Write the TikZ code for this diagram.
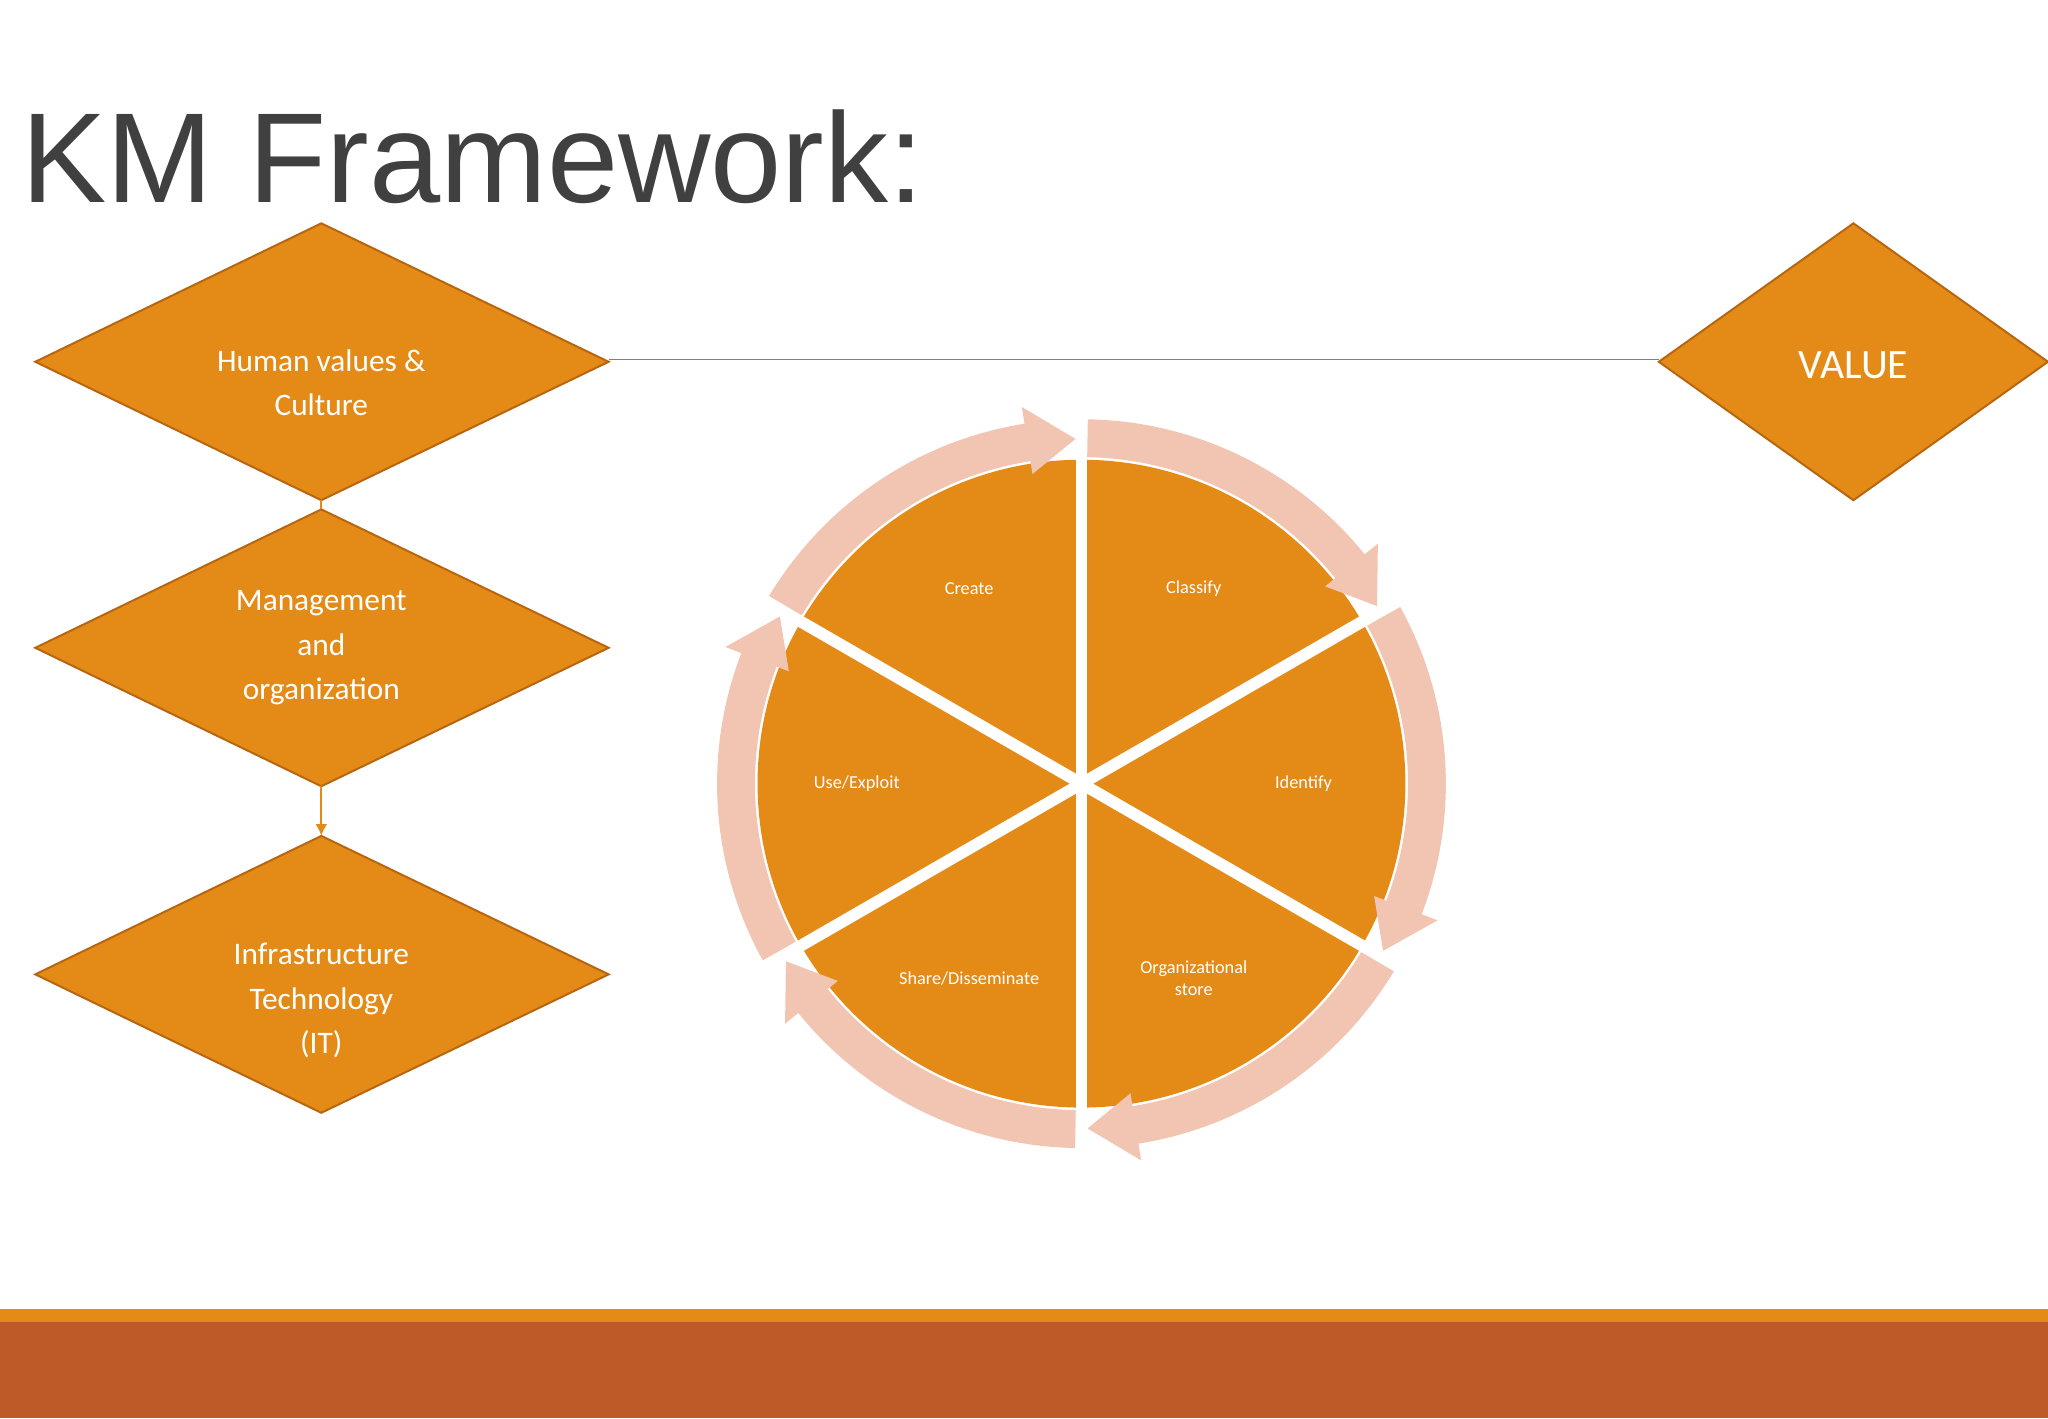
\documentclass[tikz,border=0pt]{standalone}
\usepackage{fontspec}
\usetikzlibrary{arrows.meta}
\setmainfont{Carlito}
\newfontfamily\titlefont{Liberation Sans}
\definecolor{dorange}{HTML}{E48A17}
\definecolor{dedge}{HTML}{B8650F}
\definecolor{ring}{HTML}{F2C4B2}
\definecolor{rust}{HTML}{BE5A28}
\definecolor{ttl}{HTML}{404040}
\begin{document}
\begin{tikzpicture}[x=1pt,y=1pt,
  dia/.style={fill=dorange,draw=dedge,line width=1.5pt},
  dtext/.style={text=white,align=center,font=\fontsize{24}{34}\selectfont},
  ctext/.style={text=white,align=center,font=\fontsize{14}{17}\selectfont}]
\useasboundingbox (0,0) rectangle (1568,1086);
\fill[white] (0,0) rectangle (1568,1086);
% bottom bands
\fill[rust] (0,0) rectangle (1568,74);
\fill[dorange] (0,74) rectangle (1568,84);
% title
\node[anchor=base west,inner sep=0,text=ttl,font=\titlefont\fontsize{98}{110}\selectfont] (title) at (16,931) {KM Framework:};
% diamonds
\draw[dia] (27,809) -- (246,915) -- (466,809) -- (246,703) -- cycle;
\node[dtext] (d1) at (246,793) {Human values \&\\Culture};
\draw[dia] (27,590) -- (246,696) -- (466,590) -- (246,484) -- cycle;
\node[dtext] (d2) at (246,590) {Management\\and\\organization};
\draw[dia] (27,340) -- (246,446) -- (466,340) -- (246,234) -- cycle;
\node[dtext] (d3) at (246,320) {Infrastructure\\Technology\\(IT)};
\draw[dia] (1270,809) -- (1419,915) -- (1568,809) -- (1419,703) -- cycle;
\node[text=white,font=\fontsize{32}{36}\selectfont] (v) at (1419,806) {VALUE};
\coordinate (a1) at (246,703); \coordinate (b1) at (246,696);
\draw[dorange,line width=1.5pt] (a1) -- (b1);
\coordinate (a2) at (246,484); \coordinate (b2) at (246,446);
\draw[dorange,line width=1.5pt,-{Latex[length=9pt,width=9pt]}] (a2) -- (b2);
\coordinate (l1) at (466,811); \coordinate (l2) at (1270,811);
\draw[gray,line width=0.8pt] (l1) -- (l2);
% cycle
\begin{scope}[shift={(828,486)}]
\fill[dorange] (0,0) circle (248);
\foreach \b in {90,30,-30,-90,-150,150}{
  \pgfmathsetmacro{\s}{\b+59}
  \pgfmathsetmacro{\e}{\b+9}
  \pgfmathsetmacro{\t}{\b+1}
  \fill[ring] (\s:250) arc[start angle=\s,end angle=\e,radius=250] -- (\e:240) -- (\t:264) -- (\e:292) -- (\e:279) arc[start angle=\e,end angle=\s,radius=279] -- cycle;
}
\foreach \b in {90,30,-30,-90,-150,150}{
  \draw[white,line width=9pt] (0,0) -- (\b:305);
}
\node[ctext] (c1) at (120:172) {Create};
\node[ctext] (c2) at (60:172) {Classify};
\node[ctext] (c3) at (0:170) {Identify};
\node[ctext] (c4) at (-60:172) {Organizational\\store};
\node[ctext] (c5) at (-120:172) {Share/Disseminate};
\node[ctext] (c6) at (180:172) {Use/Exploit};
\end{scope}
\end{tikzpicture}
\end{document}
